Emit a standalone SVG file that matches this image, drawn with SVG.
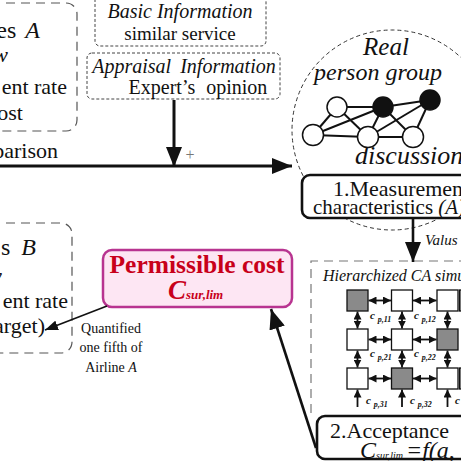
<svg xmlns="http://www.w3.org/2000/svg" width="461" height="461" viewBox="0 0 461 461">
<defs>
<style>
text{font-family:"Liberation Serif","Times New Roman",serif;fill:#111}
.it{font-style:italic}
.dash{fill:#fff;stroke:#555;stroke-width:1.2;stroke-dasharray:9 6}
.dot{fill:#fff;stroke:#444;stroke-width:1;stroke-dasharray:3 2}
.solid{fill:#fff;stroke:#111;stroke-width:2.6}
.cell{fill:#fff;stroke:#111;stroke-width:1.3}
.gray{fill:#8a8a8a;stroke:#111;stroke-width:1.3}
.edge{stroke:#111;stroke-width:2}
.ga{stroke:#111;stroke-width:1.8;marker-start:url(#sa);marker-end:url(#sa)}
.gu{stroke:#111;stroke-width:1.8;marker-end:url(#sa)}
.lbl{font-size:11px;font-weight:bold;font-style:italic}
.sub{font-size:8px}
</style>
<marker id="big" markerUnits="userSpaceOnUse" markerWidth="20" markerHeight="16" refX="20" refY="8" orient="auto"><path d="M0,0 L20,8 L0,16 z" fill="#111"/></marker>
<marker id="sa" markerUnits="userSpaceOnUse" markerWidth="8" markerHeight="8" refX="8" refY="4" orient="auto-start-reverse"><path d="M0,0 L8,4 L0,8 z" fill="#111"/></marker>
<marker id="thin" markerUnits="userSpaceOnUse" markerWidth="13" markerHeight="10" refX="13" refY="5" orient="auto"><path d="M0,0 L13,5 L0,10 z" fill="#111"/></marker>
</defs>
<rect width="461" height="461" fill="#fff"/>

<g id="airlineA">
<rect class="dash" x="-20" y="3" width="97" height="128" rx="11"/>
<text x="40" y="38" font-size="24" text-anchor="end" word-spacing="3">es <tspan class="it">A</tspan></text>
<text class="it" x="8" y="62" font-size="22" text-anchor="end">w</text>
<text x="67" y="94" font-size="22" text-anchor="end">ent rate</text>
<text x="23" y="120" font-size="22" text-anchor="end">ost</text>
</g>

<g id="basicInfo">
<rect class="dot" x="95" y="-10" width="171" height="56" rx="5"/>
<text class="it" x="180" y="18" font-size="20" text-anchor="middle">Basic Information</text>
<text x="180" y="40" font-size="19" text-anchor="middle">similar service</text>
</g>

<g id="appraisalInfo">
<rect class="dot" x="87" y="53" width="193" height="46" rx="5"/>
<text class="it" x="184" y="73" font-size="20" text-anchor="middle" word-spacing="4">Appraisal Information</text>
<text x="198" y="94" font-size="20" text-anchor="middle" word-spacing="6">Expert’s opinion</text>
</g>

<g id="comparison">
<text x="58" y="158" font-size="22" text-anchor="end">parison</text>
<text x="190" y="160" font-size="16" text-anchor="middle" style="fill:#777">+</text>
</g>

<g id="realGroup">
<circle cx="392" cy="130" r="100" fill="none" stroke="#333" stroke-width="1" stroke-dasharray="4 3"/>
<text class="it" x="386" y="55" font-size="25" text-anchor="middle">Real</text>
<text class="it" x="378" y="80" font-size="24" text-anchor="middle">person group</text>
<g>
<line class="edge" x1="337" y1="107" x2="383" y2="107"/>
<line class="edge" x1="383" y1="107" x2="430" y2="100"/>
<line class="edge" x1="337" y1="107" x2="313" y2="135"/>
<line class="edge" x1="337" y1="107" x2="368" y2="137"/>
<line class="edge" x1="313" y1="135" x2="383" y2="107"/>
<line class="edge" x1="313" y1="135" x2="368" y2="137"/>
<line class="edge" x1="383" y1="107" x2="368" y2="137"/>
<line class="edge" x1="383" y1="107" x2="413" y2="137"/>
<line class="edge" x1="430" y1="100" x2="368" y2="137"/>
<line class="edge" x1="430" y1="100" x2="413" y2="137"/>
<line class="edge" x1="368" y1="137" x2="413" y2="137"/>
<circle cx="337" cy="107" r="10" fill="#fff" stroke="#111" stroke-width="1.5"/>
<circle cx="383" cy="107" r="10" fill="#111" stroke="#111" stroke-width="1.5"/>
<circle cx="430" cy="100" r="10" fill="#111" stroke="#111" stroke-width="1.5"/>
<circle cx="313" cy="135" r="10.5" fill="#fff" stroke="#111" stroke-width="1.5"/>
<circle cx="368" cy="137" r="10.5" fill="#fff" stroke="#111" stroke-width="1.5"/>
<circle cx="413" cy="137" r="10.5" fill="#fff" stroke="#111" stroke-width="1.5"/>
</g>
<text class="it" x="355" y="164" font-size="26">discussion</text>
</g>

<g id="measurement">
<rect class="solid" x="302" y="175" width="180" height="43" rx="8"/>
<text x="333" y="196" font-size="22">1.Measurement</text>
<text x="313" y="214" font-size="21">characteristics <tspan class="it">(A)</tspan></text>
</g>

<g id="hierCA">
<path d="M311,413 V261 H470" fill="none" stroke="#777" stroke-width="1.2" stroke-dasharray="9 6"/>
<text class="it" x="323" y="281" font-size="16">Hierarchized CA simulation</text>
<rect class="gray" x="347" y="290" width="21" height="21"/>
<rect class="cell" x="391.5" y="290" width="21" height="21"/>
<rect class="cell" x="437" y="290" width="21" height="21"/>
<rect class="gray" x="459.5" y="290" width="21" height="21"/>
<rect class="cell" x="347" y="329" width="21" height="21"/>
<rect class="cell" x="391.5" y="329" width="21" height="21"/>
<rect class="gray" x="437" y="329" width="21" height="21"/>
<rect class="cell" x="347" y="368" width="21" height="21"/>
<rect class="gray" x="391.5" y="368" width="21" height="21"/>
<rect class="cell" x="437" y="368" width="21" height="21"/>
<rect class="gray" x="459.5" y="368" width="21" height="21"/>
<line class="ga" x1="368.5" y1="300.5" x2="391" y2="300.5"/>
<line class="ga" x1="413" y1="300.5" x2="436.5" y2="300.5"/>
<line class="ga" x1="368.5" y1="339.5" x2="391" y2="339.5"/>
<line class="ga" x1="413" y1="339.5" x2="436.5" y2="339.5"/>
<line class="ga" x1="368.5" y1="378.5" x2="391" y2="378.5"/>
<line class="ga" x1="413" y1="378.5" x2="436.5" y2="378.5"/>
<line class="ga" x1="357.5" y1="311.5" x2="357.5" y2="328.5"/>
<line class="ga" x1="402" y1="311.5" x2="402" y2="328.5"/>
<line class="ga" x1="447.5" y1="311.5" x2="447.5" y2="328.5"/>
<line class="ga" x1="357.5" y1="350.5" x2="357.5" y2="367.5"/>
<line class="ga" x1="402" y1="350.5" x2="402" y2="367.5"/>
<line class="ga" x1="447.5" y1="350.5" x2="447.5" y2="367.5"/>
<line class="gu" x1="357.5" y1="407" x2="357.5" y2="389.5"/>
<line class="gu" x1="402" y1="407" x2="402" y2="389.5"/>
<line class="gu" x1="447.5" y1="407" x2="447.5" y2="389.5"/>
<text class="lbl" x="370" y="319">c <tspan class="sub" dy="3">p,11</tspan></text>
<text class="lbl" x="414" y="319">c <tspan class="sub" dy="3">p,12</tspan></text>
<text class="lbl" x="370" y="357">c <tspan class="sub" dy="3">p,21</tspan></text>
<text class="lbl" x="414" y="357">c <tspan class="sub" dy="3">p,22</tspan></text>
<text class="lbl" x="366" y="404">c <tspan class="sub" dy="3">p,31</tspan></text>
<text class="lbl" x="410" y="404">c <tspan class="sub" dy="3">p,32</tspan></text>
<text class="lbl" x="455" y="404">c</text>
</g>

<g id="acceptance">
<rect class="solid" x="317" y="416" width="170" height="43" rx="8"/>
<text x="330" y="438" font-size="22">2.Acceptance</text>
<text class="it" x="360" y="458" font-size="24">C<tspan font-size="10" dy="1">sur,lim</tspan><tspan dx="3" dy="-1">=f(a,</tspan></text>
</g>

<g id="permissible">
<rect x="103" y="250" width="189" height="57" rx="9" fill="#fde6f3" stroke="#b83490" stroke-width="2.5"/>
<text x="197" y="273" font-size="25.5" font-weight="bold" text-anchor="middle" style="fill:#c8001a">Permissible cost</text>
<text x="168" y="299" font-size="27" font-weight="bold" font-style="italic" style="fill:#c8001a">C<tspan font-size="13">sur,lim</tspan></text>
</g>

<g id="airlineB">
<rect class="dash" x="-20" y="223" width="92" height="130" rx="11"/>
<text x="36" y="255" font-size="24" text-anchor="end" word-spacing="5">s <tspan class="it">B</tspan></text>
<text class="it" x="2" y="283" font-size="22" text-anchor="end">w</text>
<text x="68" y="308" font-size="22" text-anchor="end">ent rate</text>
<text x="45" y="333" font-size="22" text-anchor="end">(target)</text>
</g>

<g id="quantNote">
<text x="111" y="333" font-size="14" text-anchor="middle">Quantified</text>
<text x="111" y="352" font-size="14" text-anchor="middle">one fifth of</text>
<text x="111" y="372" font-size="14" text-anchor="middle">Airline <tspan class="it">A</tspan></text>
</g>

<g id="connectors">
<line x1="0" y1="166" x2="292" y2="166" stroke="#111" stroke-width="3" marker-end="url(#big)"/>
<line x1="174" y1="100" x2="174" y2="167" stroke="#111" stroke-width="3" marker-end="url(#big)"/>
<line x1="413" y1="218" x2="413" y2="262" stroke="#111" stroke-width="2.6" marker-end="url(#big)"/>
<line x1="316" y1="448" x2="271" y2="309" stroke="#111" stroke-width="2.6" marker-end="url(#big)"/>
<line x1="107" y1="306" x2="45" y2="330" stroke="#111" stroke-width="1.6" marker-end="url(#thin)"/>
<text class="it" x="425" y="245" font-size="15">Valus</text>
</g>
</svg>
